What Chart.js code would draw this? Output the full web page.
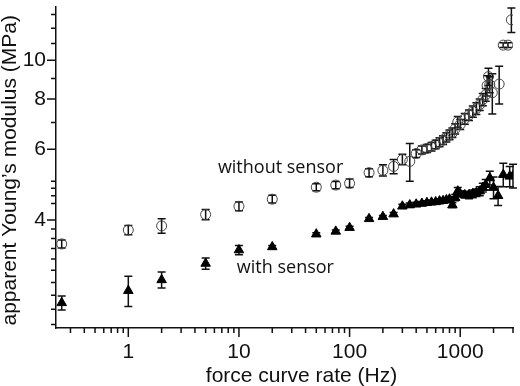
<!DOCTYPE html>
<html>
<head>
<meta charset="utf-8">
<script src="https://cdn.jsdelivr.net/npm/chart.js"></script>
<style>
  body { margin: 0; background: #fff; }
  canvas { display: block; }
</style>
</head>
<body>
<canvas id="modulusChart" width="520" height="386"></canvas>
<script>
// force curve rate (Hz) and apparent modulus (MPa)
const freqWithout = [0.25, 1, 2, 5, 10, 20, 50, 75, 100, 150, 200, 250, 300, 350, 400, 450, 500, 550, 600, 650, 700, 750, 800, 850, 900, 950, 1000, 1100, 1200, 1300, 1400, 1500, 1600, 1700, 1750, 1800, 1850, 1950, 2250, 2450, 2700, 2900];
const modWithout = [3.49, 3.78, 3.87, 4.13, 4.33, 4.51, 4.83, 4.89, 4.94, 5.25, 5.32, 5.44, 5.66, 5.60, 5.86, 5.98, 6.03, 6.09, 6.17, 6.25, 6.33, 6.43, 6.52, 6.60, 6.75, 7.02, 6.92, 7.15, 7.30, 7.45, 7.58, 7.75, 7.98, 8.20, 8.65, 9.10, 8.70, 8.30, 8.72, 10.9, 10.9, 12.6];
const errWithout = [0.08, 0.1, 0.16, 0.12, 0.11, 0.1, 0.1, 0.1, 0.12, 0.12, 0.17, 0.22, 0.17, 0.6, 0.13, 0.14, 0.14, 0.15, 0.15, 0.16, 0.16, 0.17, 0.18, 0.18, 0.2, 0.22, 0.2, 0.22, 0.22, 0.24, 0.25, 0.25, 0.28, 0.3, 0.5, 0.45, 0.4, 0.95, 0.94, 0.15, 0.15, 0.88];

const freqWith = [0.25, 1, 2, 5, 10, 20, 50, 75, 100, 150, 200, 250, 300, 350, 400, 450, 500, 550, 600, 650, 700, 750, 800, 850, 900, 950, 1000, 1100, 1200, 1300, 1400, 1500, 1600, 1700, 1850, 2000, 2200, 2450, 2800, 3000];
const modWith = [2.49, 2.67, 2.84, 3.12, 3.37, 3.43, 3.69, 3.75, 3.83, 4.03, 4.08, 4.14, 4.33, 4.36, 4.38, 4.40, 4.42, 4.43, 4.44, 4.46, 4.47, 4.49, 4.51, 4.36, 4.55, 4.72, 4.65, 4.62, 4.62, 4.65, 4.68, 4.72, 4.82, 4.90, 5.09, 4.82, 4.60, 5.19, 5.14, 5.16];
const errWith = [0.1, 0.23, 0.13, 0.1, 0.09, 0.03, 0.03, 0.03, 0.03, 0.03, 0.03, 0.04, 0.05, 0.05, 0.05, 0.05, 0.05, 0.05, 0.05, 0.06, 0.06, 0.06, 0.06, 0.06, 0.08, 0.1, 0.08, 0.08, 0.1, 0.1, 0.1, 0.12, 0.12, 0.15, 0.2, 0.3, 0.25, 0.35, 0.3, 0.35];

const xMajor = [1, 10, 100, 1000];
const xMinor = [0.3, 0.4, 0.5, 0.6, 0.7, 0.8, 0.9, 2, 3, 4, 5, 6, 7, 8, 9, 20, 30, 40, 50, 60, 70, 80, 90, 200, 300, 400, 500, 600, 700, 800, 900, 2000, 3000];
const yMajor = [4, 6, 8, 10];
const yMinor = [2.2, 2.4, 2.6, 2.8, 3, 3.2, 3.4, 3.6, 3.8, 4.4, 4.6, 4.8, 5, 7, 9, 11, 12, 13];

const seriesLabels = ['without sensor', 'with sensor'];
const labelAnchors = [[6.45, 5.24], [9.57, 2.953]];

const TICK_FONT = '"Liberation Sans", Arial, sans-serif';

function toPoints(xs, ys, es) {
    return xs.map((x, i) => ({ x: x, y: ys[i], err: es[i] }));
}

// error bars with caps, drawn under the markers
const errorBars = {
    id: 'errorBars',
    beforeDatasetsDraw(chart) {
        const { ctx, scales: { x, y } } = chart;
        ctx.save();
        ctx.strokeStyle = '#111';
        ctx.lineWidth = 1.5;
        chart.data.datasets.forEach(ds => {
            ds.data.forEach(p => {
                const px = x.getPixelForValue(p.x);
                const top = y.getPixelForValue(p.y + p.err);
                const bot = y.getPixelForValue(p.y - p.err);
                ctx.beginPath();
                ctx.moveTo(px, top); ctx.lineTo(px, bot);
                ctx.moveTo(px - 4, top); ctx.lineTo(px + 4, top);
                ctx.moveTo(px - 4, bot); ctx.lineTo(px + 4, bot);
                ctx.stroke();
            });
        });
        ctx.restore();
    }
};

// outward tick marks (long for labelled ticks), axis titles and series labels
const axisDecor = {
    id: 'axisDecor',
    afterDraw(chart) {
        const { ctx, chartArea: area, scales: { x, y } } = chart;
        ctx.save();
        ctx.strokeStyle = '#111';
        ctx.lineWidth = 1.5;
        ctx.beginPath();
        xMajor.concat(xMinor).forEach(v => {
            const px = x.getPixelForValue(v);
            const len = xMajor.includes(v) ? 9 : 5;
            ctx.moveTo(px, area.bottom); ctx.lineTo(px, area.bottom + len);
        });
        yMajor.concat(yMinor).forEach(v => {
            const py = y.getPixelForValue(v);
            const len = yMajor.includes(v) ? 9 : 5;
            ctx.moveTo(area.left, py); ctx.lineTo(area.left - len, py);
        });
        ctx.stroke();

        ctx.fillStyle = '#111';
        ctx.font = '21px ' + TICK_FONT;
        ctx.textAlign = 'center';
        ctx.textBaseline = 'middle';
        ctx.fillText('force curve rate (Hz)', (area.left + area.right) / 2 + 17, 376);

        ctx.save();
        ctx.translate(10, (area.top + area.bottom) / 2 + 3);
        ctx.rotate(-Math.PI / 2);
        ctx.fillText('apparent Young\u2019s modulus (MPa)', 0, 0);
        ctx.restore();

        ctx.font = '18px "Open Sans", sans-serif';
        ctx.textAlign = 'left';
        ctx.textBaseline = 'alphabetic';
        seriesLabels.forEach((t, i) => {
            ctx.fillText(t, x.getPixelForValue(labelAnchors[i][0]), y.getPixelForValue(labelAnchors[i][1]));
        });
        ctx.restore();
    }
};

function tickList(major, minor) {
    return function (scale) {
        scale.ticks = major.concat(minor).sort((a, b) => a - b).map(v => ({ value: v }));
    };
}

const ctx = document.getElementById('modulusChart').getContext('2d');
const chart = new Chart(ctx, {
    type: 'scatter',
    data: {
        datasets: [{
            label: seriesLabels[0],
            data: toPoints(freqWithout, modWithout, errWithout),
            pointStyle: 'circle',
            pointRadius: 5,
            borderColor: '#444',
            borderWidth: 1,
            backgroundColor: 'rgba(0,0,0,0)'
        }, {
            label: seriesLabels[1],
            data: toPoints(freqWith, modWith, errWith),
            pointStyle: 'triangle',
            pointRadius: 5.5,
            borderColor: '#000',
            borderWidth: 1,
            backgroundColor: '#000'
        }]
    },
    options: {
        responsive: false,
        animation: false,
        devicePixelRatio: 1,
        layout: { padding: { top: 0, right: 7, bottom: 0, left: 0 } },
        plugins: {
            legend: { display: false },
            tooltip: { enabled: false }
        },
        scales: {
            x: {
                type: 'logarithmic',
                min: 0.222,
                max: 3000,
                afterBuildTicks: tickList(xMajor, xMinor),
                afterFit: s => { s.height = 58; s.paddingLeft = 0; s.paddingRight = 0; },
                grid: { display: false, drawTicks: false },
                border: { display: true, color: '#111', width: 1.5 },
                ticks: {
                    autoSkip: false,
                    maxRotation: 0,
                    padding: 12,
                    color: '#111',
                    font: { family: TICK_FONT, size: 21 },
                    callback: v => xMajor.includes(v) ? String(v) : ''
                }
            },
            y: {
                type: 'logarithmic',
                min: 2.156,
                max: 13.6,
                afterBuildTicks: tickList(yMajor, yMinor),
                afterFit: s => { s.width = 56; s.paddingTop = 0; s.paddingBottom = 0; },
                grid: { display: false, drawTicks: false },
                border: { display: true, color: '#111', width: 1.5 },
                ticks: {
                    autoSkip: false,
                    padding: 10,
                    color: '#111',
                    font: { family: TICK_FONT, size: 21 },
                    callback: v => yMajor.includes(v) ? String(v) : ''
                }
            }
        }
    },
    plugins: [errorBars, axisDecor]
});
</script>
</body>
</html>
